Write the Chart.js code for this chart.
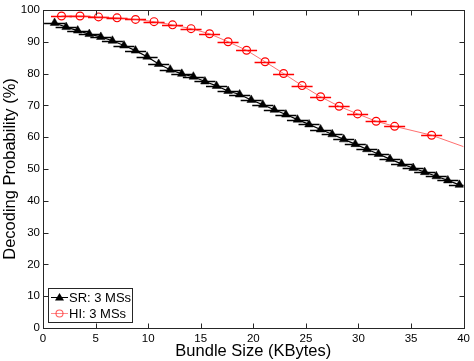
<!DOCTYPE html>
<html>
<head>
<meta charset="utf-8">
<script src="https://cdn.jsdelivr.net/npm/chart.js@4/dist/chart.umd.min.js"></script>
<style>
  html, body { margin: 0; padding: 0; background: #fff; }
  #wrap { width: 474px; height: 361px; }
</style>
</head>
<body>
<div id="wrap"><canvas id="c" width="474" height="361"></canvas></div>
<script>
// ---- data ----
const xTicks = [0, 5, 10, 15, 20, 25, 30, 35, 40];
const yTicks = [0, 10, 20, 30, 40, 50, 60, 70, 80, 90, 100];

const srLabel = 'SR: 3 MSs';
const srX = [1.1, 2.2, 3.3, 4.4, 5.5, 6.6, 7.7, 8.8, 9.9, 11.0, 12.1, 13.2, 14.3, 15.4, 16.5, 17.6, 18.7, 19.8,
             20.9, 22.0, 23.1, 24.2, 25.3, 26.4, 27.5, 28.6, 29.7, 30.8, 31.9, 33.0, 34.1, 35.2, 36.3, 37.4, 38.5, 39.6];
const srY = [95.9, 94.6, 93.5, 92.4, 91.5, 90.3, 88.8, 87.2, 85.3, 83.0, 81.2, 79.9, 79.0, 77.5, 76.1, 74.5, 73.4, 71.7,
             70.2, 68.6, 67.1, 65.5, 64.0, 62.4, 60.9, 59.3, 57.8, 56.2, 54.7, 53.1, 51.6, 50.3, 49.0, 47.7, 46.4, 45.0];
const srXErr = 1.0;

const hiLabel = 'HI: 3 MSs';
const hiX = [1.76, 3.52, 5.28, 7.04, 8.8, 10.56, 12.32, 14.08, 15.84, 17.6, 19.36, 21.12, 22.88, 24.64, 26.4,
             28.16, 29.92, 31.68, 33.44, 36.96, 40];
const hiY = [98.1, 98.1, 97.8, 97.5, 97.0, 96.3, 95.3, 94.1, 92.5, 90.0, 87.3, 83.7, 80.0, 76.2, 72.7,
             69.7, 67.3, 65.0, 63.4, 60.6, 57.0];
const hiMarked = [1,1,1,1,1,1,1,1,1,1,1,1,1,1,1,1,1,1,1,1,0]; // last point: line end only
const hiXErr = 1.0;

const xTitle = 'Bundle Size (KBytes)';
const yTitle = 'Decoding Probability (%)';

// ---- styling ----
const FONT = '"Liberation Sans", Arial, Helvetica, sans-serif';
const FRAME = '#262626';

const srData = srX.map((x, i) => ({ x: x, y: srY[i] }));
const hiData = hiX.map((x, i) => ({ x: x, y: hiY[i] }));

const errorBars = {
  id: 'errorBars',
  beforeDatasetsDraw(chart) {
    const ctx = chart.ctx, xs = chart.scales.x, ys = chart.scales.y, a = chart.chartArea;
    ctx.save();
    ctx.beginPath();
    ctx.rect(a.left, a.top, a.right - a.left, a.bottom - a.top);
    ctx.clip();
    const sets = [
      { xs: srX, ys: srY, e: srXErr, c: '#000000', w: 1.5, m: null },
      { xs: hiX, ys: hiY, e: hiXErr, c: '#ff0000', w: 1.4, m: hiMarked }
    ];
    sets.forEach(s => {
      ctx.strokeStyle = s.c;
      ctx.lineWidth = s.w;
      s.xs.forEach((x, i) => {
        if (s.m && !s.m[i]) return;
        const py = Math.round(ys.getPixelForValue(s.ys[i])) + 0.5;
        ctx.beginPath();
        ctx.moveTo(xs.getPixelForValue(x - s.e), py);
        ctx.lineTo(xs.getPixelForValue(x + s.e), py);
        ctx.stroke();
      });
    });
    ctx.restore();
  }
};

const frame = {
  id: 'frame',
  afterDraw(chart) {
    const ctx = chart.ctx, xs = chart.scales.x, ys = chart.scales.y, a = chart.chartArea;
    const L = Math.round(a.left) + 0.5, R = Math.round(a.right) + 0.5;
    const T = Math.round(a.top) + 0.5, B = Math.round(a.bottom) + 0.5;
    ctx.save();
    ctx.strokeStyle = FRAME;
    ctx.lineWidth = 1;
    ctx.strokeRect(L, T, R - L, B - T);
    const tl = 5;
    ctx.beginPath();
    xTicks.forEach(v => {
      const px = Math.round(xs.getPixelForValue(v)) + 0.5;
      ctx.moveTo(px, B); ctx.lineTo(px, B - tl);
      ctx.moveTo(px, T); ctx.lineTo(px, T + tl);
    });
    yTicks.forEach(v => {
      const py = Math.round(ys.getPixelForValue(v)) + 0.5;
      ctx.moveTo(L, py); ctx.lineTo(L + tl, py);
      ctx.moveTo(R, py); ctx.lineTo(R - tl, py);
    });
    ctx.stroke();

    // legend box
    const bx = 48.5, by = 288.5, bw = 84, bh = 34;
    ctx.fillStyle = '#ffffff';
    ctx.fillRect(bx, by, bw, bh);
    ctx.strokeStyle = FRAME;
    ctx.strokeRect(bx, by, bw, bh);
    const rows = [
      { y: 297.5, label: srLabel, line: '#000000', mk: 'tri' },
      { y: 313.5, label: hiLabel, line: 'rgba(255,60,60,0.6)', mk: 'circ' }
    ];
    rows.forEach(r => {
      ctx.strokeStyle = r.line;
      ctx.lineWidth = 1;
      ctx.beginPath();
      ctx.moveTo(51, r.y); ctx.lineTo(68, r.y);
      ctx.stroke();
      if (r.mk === 'tri') {
        ctx.fillStyle = '#000';
        ctx.beginPath();
        ctx.moveTo(59.5, r.y - 4.5);
        ctx.lineTo(64, r.y + 3);
        ctx.lineTo(55, r.y + 3);
        ctx.closePath();
        ctx.fill();
      } else {
        ctx.strokeStyle = 'rgba(255,40,40,0.75)';
        ctx.lineWidth = 1.1;
        ctx.beginPath();
        ctx.arc(59.5, r.y, 3.5, 0, Math.PI * 2);
        ctx.stroke();
      }
      ctx.fillStyle = '#000';
      ctx.font = '13px ' + FONT;
      ctx.textAlign = 'left';
      ctx.textBaseline = 'middle';
      ctx.fillText(r.label, 69, r.y + 0.5);
    });
    ctx.restore();
  }
};

new Chart(document.getElementById('c'), {
  type: 'scatter',
  data: {
    datasets: [
      {
        label: srLabel,
        data: srData,
        showLine: true,
        borderColor: '#000000',
        borderWidth: 1.2,
        pointStyle: 'triangle',
        pointRadius: 5,
        pointBackgroundColor: '#000000',
        pointBorderColor: '#000000',
        pointBorderWidth: 0.5
      },
      {
        label: hiLabel,
        data: hiData,
        showLine: true,
        borderColor: 'rgba(255,50,50,0.7)',
        borderWidth: 1,
        pointStyle: 'circle',
        pointRadius: hiMarked.map(m => m ? 3.9 : 0),
        pointBackgroundColor: 'rgba(255,255,255,0)',
        pointBorderColor: '#ff0000',
        pointBorderWidth: 1.2
      }
    ]
  },
  options: {
    responsive: false,
    animation: false,
    events: [],
    layout: { padding: { left: 0, right: 8, top: 6, bottom: 0 } },
    plugins: { legend: { display: false }, tooltip: { enabled: false } },
    scales: {
      x: {
        type: 'linear',
        min: 0, max: 40,
        afterBuildTicks: s => { s.ticks = xTicks.map(v => ({ value: v })); },
        afterFit: s => { s.height = 33; },
        grid: { display: false, drawTicks: false },
        border: { display: false },
        ticks: { color: '#000', font: { family: FONT, size: 11.5 }, padding: 4, maxRotation: 0, autoSkip: false },
        title: { display: true, text: xTitle, color: '#000', font: { family: FONT, size: 16.5 }, padding: { top: 0, bottom: 0 } }
      },
      y: {
        type: 'linear',
        min: 0, max: 100,
        afterBuildTicks: s => { s.ticks = yTicks.map(v => ({ value: v })); },
        afterFit: s => { s.width = 43; },
        grid: { display: false, drawTicks: false },
        border: { display: false },
        ticks: { color: '#000', font: { family: FONT, size: 11.5 }, padding: 3, autoSkip: false },
        title: { display: true, text: yTitle, color: '#000', font: { family: FONT, size: 16.5 }, padding: { top: 1, bottom: 0 } }
      }
    }
  },
  plugins: [errorBars, frame]
});
</script>
</body>
</html>
